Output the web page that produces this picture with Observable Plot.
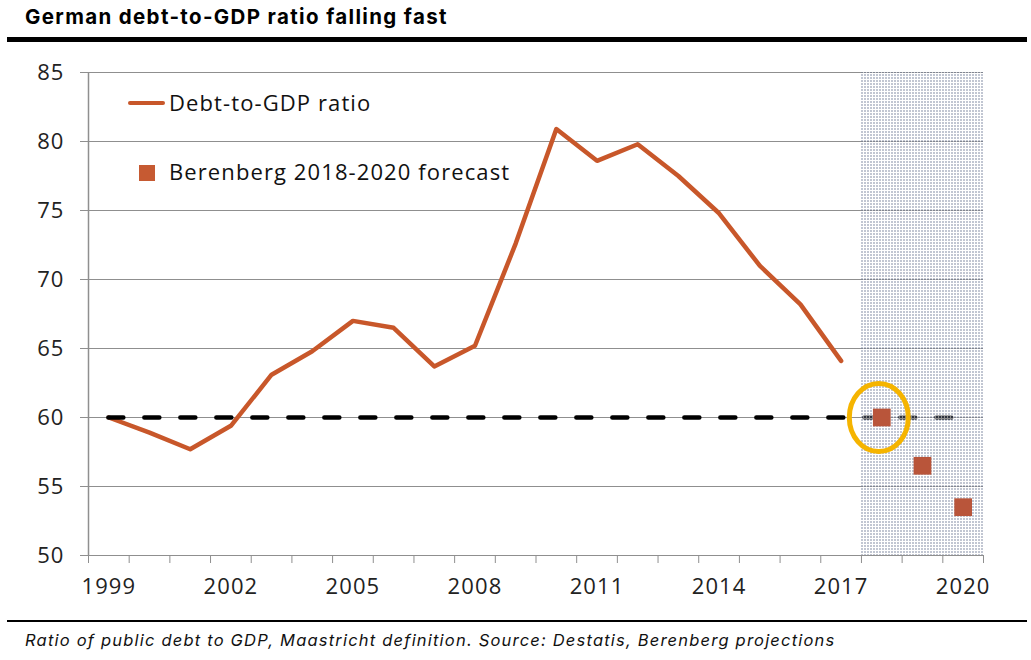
<!DOCTYPE html>
<html>
<head>
<meta charset="utf-8">
<script src="https://cdn.jsdelivr.net/npm/d3@7"></script>
<script src="https://cdn.jsdelivr.net/npm/@observablehq/plot@0.6"></script>
<style>
  html, body { margin: 0; padding: 0; background: #fff; }
  body { width: 1031px; height: 660px; position: relative; overflow: hidden; }
  #title { position: absolute; left: 25px; top: 4px; font-family: Inter, sans-serif; font-weight: 700; font-size: 20.5px; letter-spacing: 1.35px; color: #000; }
  #rule1 { position: absolute; left: 7px; top: 37px; width: 1020px; height: 5px; background: #000; }
  #chart { position: absolute; left: 0; top: 50px; }
  #rule2 { position: absolute; left: 7px; top: 620px; width: 1020px; height: 1.5px; background: #000; }
  #caption { position: absolute; left: 25px; top: 630px; font-family: Inter, sans-serif; font-style: italic; font-size: 16.5px; letter-spacing: 1.2px; color: #111; }
  .leg { position: absolute; font-family: "Open Sans", sans-serif; font-size: 22px; letter-spacing: 1.1px; color: #111; line-height: 1; }
</style>
</head>
<body>
<div id="title"></div>
<div id="rule1"></div>
<div id="chart"></div>
<div id="rule2"></div>
<div id="caption"></div>
<script>
// ---- data ----
const titleText = "German debt-to-GDP ratio falling fast";
const captionText = "Ratio of public debt to GDP, Maastricht definition. Source: Destatis, Berenberg projections";
const seriesName = "Debt-to-GDP ratio";
const forecastName = "Berenberg 2018-2020 forecast";

const years = [1999, 2000, 2001, 2002, 2003, 2004, 2005, 2006, 2007, 2008, 2009, 2010, 2011, 2012, 2013, 2014, 2015, 2016, 2017];
const debtRatio = [60.0, 58.9, 57.7, 59.4, 63.1, 64.8, 67.0, 66.5, 63.7, 65.2, 72.6, 80.9, 78.6, 79.8, 77.5, 74.8, 71.0, 68.2, 64.1];
const forecastYears = [2018, 2019, 2020];
const forecastValues = [60.0, 56.5, 53.5];
const threshold = 60;
const xTickLabels = [1999, 2002, 2005, 2008, 2011, 2014, 2017, 2020];
const yTicks = [50, 55, 60, 65, 70, 75, 80, 85];

// ---- derived tables ----
const lineData = years.map((y, i) => ({year: y, value: debtRatio[i]}));
const forecastData = forecastYears.map((y, i) => ({year: y, value: forecastValues[i]}));
const allYears = years.concat(forecastYears);
const xMin = allYears[0] - 0.5, xMax = allYears[allYears.length - 1] + 0.5;
const boundaries = d3.range(xMin, xMax + 0.01, 1);
const yMin = yTicks[0], yMax = yTicks[yTicks.length - 1];
const shade = [{x1: forecastYears[0] - 0.5, x2: xMax, y1: yMin, y2: yMax}];
const highlight = [forecastData[0]];

const lineColor = "#c8572a";
const squareColor = "#b9553a";
const legendSquareColor = "#c65a32";
const gridColor = "#8f8f8f";

const ellipse = {
  draw(ctx) {
    const rx = 29.5, ry = 34, k = 0.5523;
    ctx.moveTo(rx, 0);
    ctx.bezierCurveTo(rx, ry * k, rx * k, ry, 0, ry);
    ctx.bezierCurveTo(-rx * k, ry, -rx, ry * k, -rx, 0);
    ctx.bezierCurveTo(-rx, -ry * k, -rx * k, -ry, 0, -ry);
    ctx.bezierCurveTo(rx * k, -ry, rx, -ry * k, rx, 0);
    ctx.closePath();
  }
};

const chart = Plot.plot({
  width: 1031,
  height: 560,
  marginLeft: 88,
  marginRight: 48,
  marginTop: 22,
  marginBottom: 55,
  style: {fontFamily: "'Open Sans', sans-serif", fontSize: "22px", letterSpacing: "1.1px", color: "#222", background: "transparent"},
  x: {type: "linear", domain: [xMin, xMax]},
  y: {domain: [yMin, yMax]},
  marks: [
    Plot.gridY(yTicks, {stroke: gridColor, strokeOpacity: 1, strokeWidth: 1.2}),
    Plot.axisY(yTicks, {tickSize: 8, tickPadding: 16, stroke: gridColor, strokeOpacity: 1, fontSize: 22, label: null}),
    Plot.axisX(boundaries, {tickSize: 8, tickFormat: () => "", stroke: gridColor, strokeOpacity: 1, label: null}),
    Plot.axisX(xTickLabels, {tickSize: 0, tickPadding: 23, tickFormat: d => String(d), fontSize: 22, label: null}),
    Plot.ruleX([xMin], {stroke: gridColor, strokeWidth: 1.5}),
    Plot.line(lineData, {x: "year", y: "value", stroke: lineColor, strokeWidth: 4.5, strokeLinejoin: "round"}),
    Plot.ruleY([threshold], {x1: allYears[0], x2: allYears[allYears.length - 1], stroke: "#000", strokeWidth: 4.5, strokeDasharray: "15,21", strokeLinecap: "round"}),
    Plot.rect(shade, {x1: "x1", x2: "x2", y1: "y1", y2: "y2", fill: "url(#dotpat)"}),
    Plot.dot(forecastData, {x: "year", y: "value", symbol: "square", r: 10, fill: squareColor, stroke: "none"}),
    Plot.dot(highlight, {x: "year", y: "value", dx: -3, symbol: ellipse, stroke: "#f5b400", strokeWidth: 5, fill: "none"})
  ]
});

// dotted pattern for forecast area
const svg = d3.select(chart);
const defs = svg.insert("defs", ":first-child");
const pat = defs.append("pattern").attr("id", "dotpat").attr("patternUnits", "userSpaceOnUse").attr("width", 3).attr("height", 3);
pat.append("rect").attr("x", 0).attr("y", 0).attr("width", 2).attr("height", 2).attr("fill", "#6a7794").attr("fill-opacity", 0.42);
pat.append("rect").attr("x", 2).attr("y", 0).attr("width", 1).attr("height", 3).attr("fill", "#fff").attr("fill-opacity", 0.55);
pat.append("rect").attr("x", 0).attr("y", 2).attr("width", 2).attr("height", 1).attr("fill", "#fff").attr("fill-opacity", 0.55);

document.getElementById("chart").appendChild(chart);
document.getElementById("title").textContent = titleText;
document.getElementById("caption").textContent = captionText;

// legend (inside plot area, top-left)
function addLegend() {
  const body = document.body;
  const l1 = document.createElement("div");
  l1.style.cssText = `position:absolute;left:128px;top:101px;width:37px;height:4px;background:${lineColor};border-radius:2px;`;
  body.appendChild(l1);
  const t1 = document.createElement("div");
  t1.className = "leg"; t1.style.left = "169px"; t1.style.top = "91px"; t1.textContent = seriesName;
  body.appendChild(t1);
  const s2 = document.createElement("div");
  s2.style.cssText = `position:absolute;left:139px;top:165px;width:16px;height:16px;background:${legendSquareColor};`;
  body.appendChild(s2);
  const t2 = document.createElement("div");
  t2.className = "leg"; t2.style.left = "169px"; t2.style.top = "160px"; t2.textContent = forecastName;
  body.appendChild(t2);
}
addLegend();
</script>
</body>
</html>
